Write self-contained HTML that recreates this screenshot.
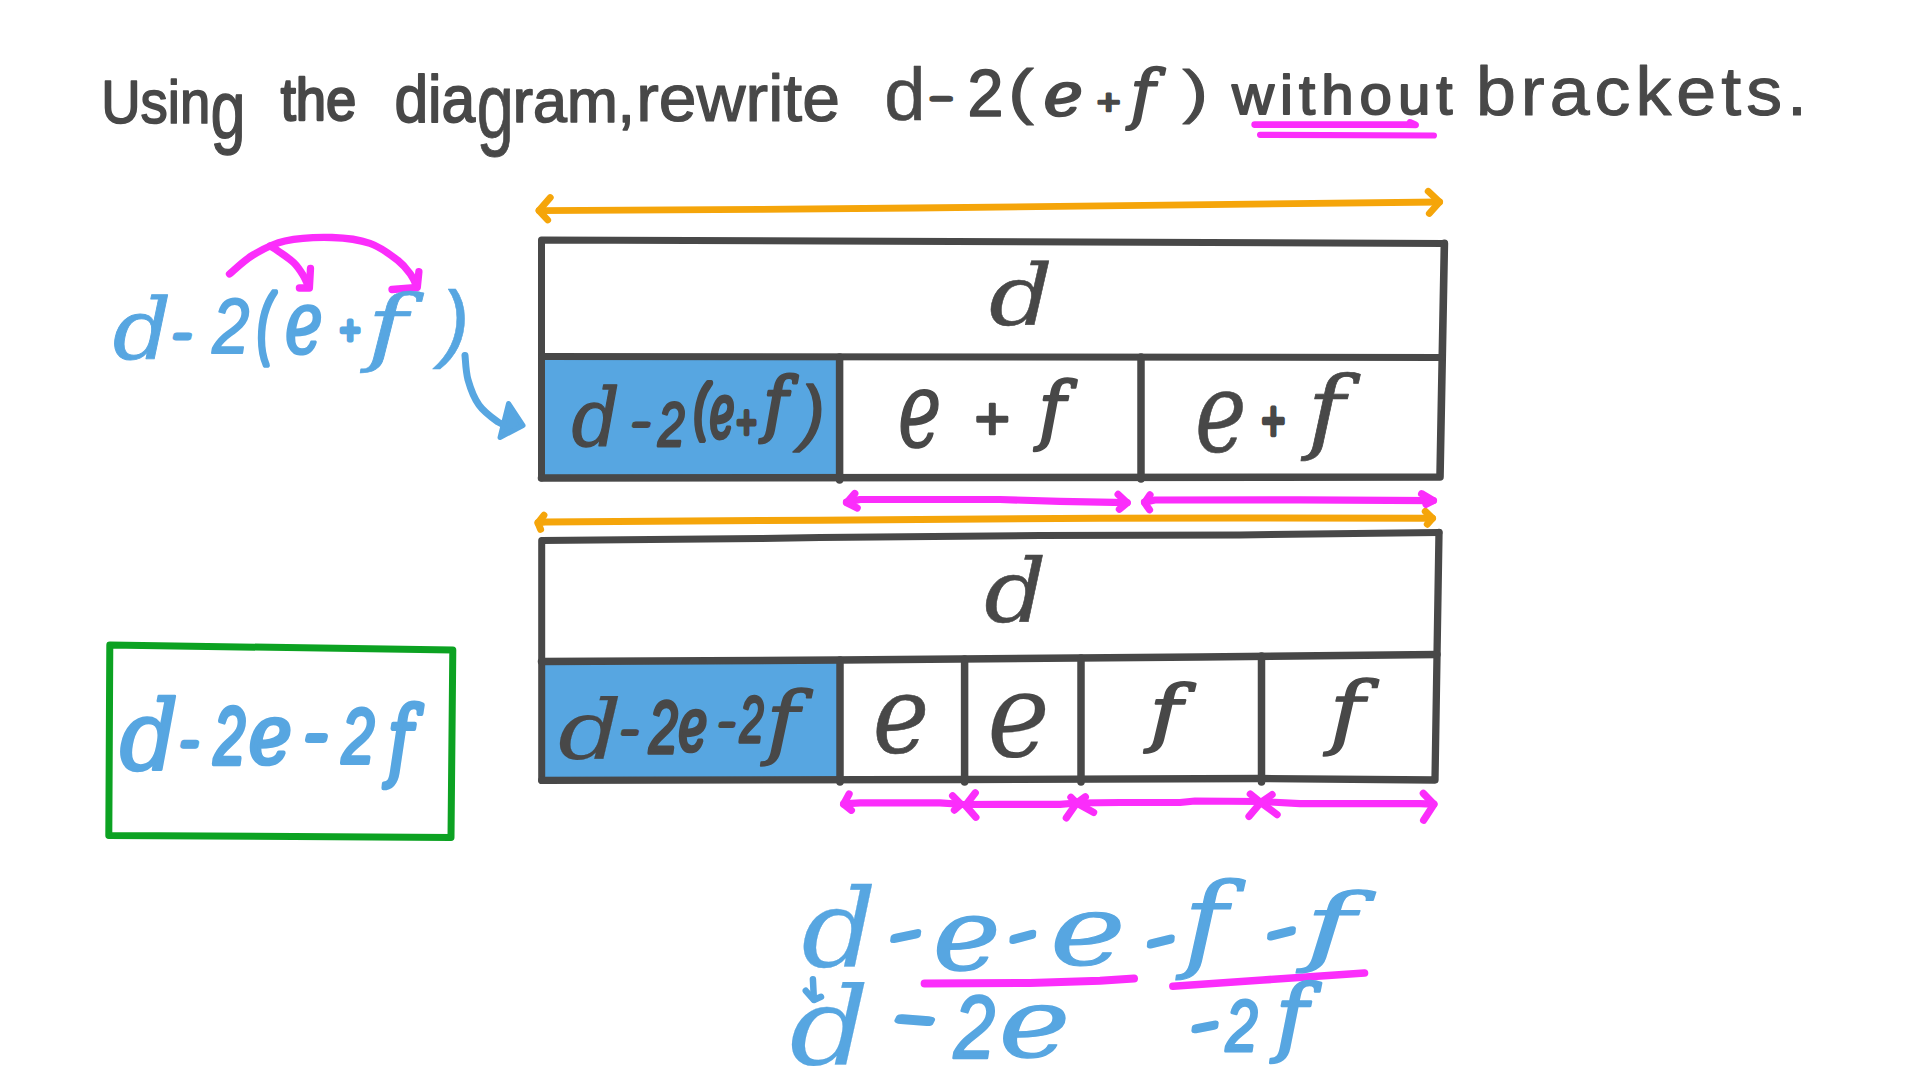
<!DOCTYPE html>
<html lang="en"><head><meta charset="utf-8"><title>Rewrite d-2(e+f) without brackets</title>
<style>
html,body{margin:0;padding:0;background:#fff}
body{width:1920px;height:1080px;overflow:hidden}
svg{display:block}
text{font-size:200px;stroke-linejoin:round;stroke-linecap:round}
.ln{fill:none;stroke-linecap:round;stroke-linejoin:round}
</style></head>
<body>
<svg width="1920" height="1080" viewBox="0 0 1920 1080">
<rect width="1920" height="1080" fill="#fff"/>
<polygon points="544,358 837,358 837,476 544,476" fill="#57A6E1"/>
<polygon points="544,663 837,662 837,778 544,778" fill="#57A6E1"/>
<path class="ln" stroke="#484848" stroke-width="7" d="M541.5,478.0 L541.5,240.0 L1444.4,243.4"/>
<path class="ln" stroke="#484848" stroke-width="7.6" d="M1444.4,243.4 L1440.0,477.0 L541.5,478.0"/>
<path class="ln" stroke="#484848" stroke-width="7" d="M542.0,356.5 L1442.0,357.5"/>
<path class="ln" stroke="#484848" stroke-width="7.5" d="M839.6,357.0 L839.6,480.0"/>
<path class="ln" stroke="#484848" stroke-width="7.5" d="M1141.0,357.0 L1141.0,479.0"/>
<path class="ln" stroke="#484848" stroke-width="7" d="M541.7,780.0 L541.7,540.6 L760.0,538.5 L820.0,537.5 L1040.0,535.6 L1240.0,535.0 L1439.0,532.5"/>
<path class="ln" stroke="#484848" stroke-width="7.3" d="M1439.0,532.5 L1435.0,780.0 L1261.0,778.5 L964.0,779.5 L541.7,780.4"/>
<path class="ln" stroke="#484848" stroke-width="7.5" d="M541.5,661.5 L840.0,660.0 L1200.0,657.0 L1437.0,654.5"/>
<path class="ln" stroke="#484848" stroke-width="7.5" d="M840.0,660.0 L840.0,782.0"/>
<path class="ln" stroke="#484848" stroke-width="7.5" d="M964.6,659.0 L964.6,782.0"/>
<path class="ln" stroke="#484848" stroke-width="7.5" d="M1081.0,658.0 L1081.0,782.0"/>
<path class="ln" stroke="#484848" stroke-width="7.5" d="M1261.5,656.0 L1261.5,782.0"/>
<path class="ln" stroke="#F5A50A" stroke-width="6.8" d="M539.0,210.6 L760.0,209.4 L915.0,208.0 L1439.6,202.0"/>
<path class="ln" stroke="#F5A50A" stroke-width="6.8" d="M550.3,197.6 L539.0,210.6 L547.7,220.0"/>
<path class="ln" stroke="#F5A50A" stroke-width="6.8" d="M1428.2,191.3 L1439.6,202.0 L1429.3,213.5"/>
<path class="ln" stroke="#F5A50A" stroke-width="7.0" d="M537.9,522.7 L545.0,522.0 L760.0,520.6 L820.0,520.3 L1100.0,518.2 L1240.0,518.0 L1432.5,518.2"/>
<path class="ln" stroke="#F5A50A" stroke-width="7.0" d="M543.9,515.3 L538.0,523.0 L540.6,529.3"/>
<path class="ln" stroke="#F5A50A" stroke-width="7.0" d="M1425.3,511.4 L1432.5,518.2 L1427.3,524.2"/>
<path class="ln" stroke="#FB2DFB" stroke-width="7.2" d="M846.5,502.1 L860.0,499.5 L1000.0,499.5 L1060.0,501.3 L1127.2,502.7"/>
<path class="ln" stroke="#FB2DFB" stroke-width="7.2" d="M854.8,493.5 L846.6,502.8 L857.2,507.9"/>
<path class="ln" stroke="#FB2DFB" stroke-width="7.2" d="M1118.1,494.4 L1127.2,502.8 L1119.4,509.3"/>
<path class="ln" stroke="#FB2DFB" stroke-width="7.2" d="M1144.5,502.1 L1155.0,500.0 L1300.0,499.8 L1433.4,500.6"/>
<path class="ln" stroke="#FB2DFB" stroke-width="7.2" d="M1150.0,494.9 L1144.6,502.8 L1149.5,509.8"/>
<path class="ln" stroke="#FB2DFB" stroke-width="7.2" d="M1421.6,493.7 L1433.4,500.6 L1426.0,504.4"/>
<path class="ln" stroke="#FB2DFB" stroke-width="7.2" d="M843.6,803.9 L860.0,802.8 L940.0,802.8 L963.3,804.5 L1000.0,804.4 L1060.0,804.4 L1076.7,803.0 L1120.0,802.5 L1180.0,802.5 L1195.0,801.0 L1260.8,801.5 L1300.0,803.7 L1420.0,803.7 L1433.9,804.1"/>
<path class="ln" stroke="#FB2DFB" stroke-width="7.2" d="M849.1,794.0 L843.6,804.2 L851.4,810.3"/>
<path class="ln" stroke="#FB2DFB" stroke-width="7.2" d="M952.6,795.8 L961.0,804.2 L954.4,810.1"/>
<path class="ln" stroke="#FB2DFB" stroke-width="7.2" d="M975.3,792.8 L965.5,805.5 L975.9,817.3"/>
<path class="ln" stroke="#FB2DFB" stroke-width="7.2" d="M1070.9,797.2 L1076.7,803.0 L1093.6,812.4"/>
<path class="ln" stroke="#FB2DFB" stroke-width="7.2" d="M1085.4,796.8 L1076.7,803.0 L1066.3,817.9"/>
<path class="ln" stroke="#FB2DFB" stroke-width="7.2" d="M1250.3,794.0 L1260.8,802.5 L1277.1,814.6"/>
<path class="ln" stroke="#FB2DFB" stroke-width="7.2" d="M1272.1,794.6 L1260.8,802.5 L1249.0,816.4"/>
<path class="ln" stroke="#FB2DFB" stroke-width="7.2" d="M1423.3,793.4 L1434.0,804.2 L1423.6,820.3"/>
<path class="ln" stroke="#FB2DFB" stroke-width="6.8" d="M1254.7,124.6 L1405,124.6 L1415.6,124.8 L1410,122.5" />
<path class="ln" stroke="#FB2DFB" stroke-width="6.2" d="M1260.1,134.8 L1433.9,135.5"/>
<path class="ln" stroke="#FB2DFB" stroke-width="7.3" d="M229.5,274.0 C233.4,270.8 243.8,260.5 253.0,255.0 C262.2,249.5 271.8,243.9 285.0,241.0 C298.2,238.1 317.8,237.1 332.0,237.5 C346.2,237.9 359.0,239.6 370.0,243.4 C381.0,247.2 391.2,255.2 398.0,260.5 C404.8,265.8 407.9,270.8 411.0,275.0 C414.1,279.2 415.6,284.2 416.5,286.0" />
<path class="ln" stroke="#FB2DFB" stroke-width="7.3" d="M418.9,271.6 L417.3,287.5 L392.0,289.5"/>
<path class="ln" stroke="#FB2DFB" stroke-width="7.3" d="M270.0,246.0 C271.5,246.9 274.9,248.7 278.8,251.5 C282.8,254.3 289.7,258.7 293.7,262.6 C297.7,266.5 300.5,270.9 303.0,275.0 C305.5,279.1 307.8,285.0 308.8,287.0" />
<path class="ln" stroke="#FB2DFB" stroke-width="7.3" d="M310.5,268.3 L309.4,288.0 L299.4,288.0"/>
<path class="ln" stroke="#57A6E1" stroke-width="7" d="M465.0,355.5 C465.5,359.5 465.7,371.4 468.0,379.7 C470.3,387.9 474.0,397.9 479.0,405.0 C484.0,412.1 493.5,418.8 498.0,422.0 C502.5,425.2 504.7,423.7 506.0,424.0" />
<polygon class="ln" points="508.5,403.5 523,425.5 500,437.5" stroke="#57A6E1" stroke-width="5" style="fill:#57A6E1"/>
<path class="ln" stroke="#0CA222" stroke-width="7" d="M109.8,645.0 L452.8,650.0 L451.0,837.5 L108.8,835.4 Z"/>
<path class="ln" stroke="#FB2DFB" stroke-width="8" d="M924.6,983.6 L1030,983 L1100,980.8 L1134,978.6" />
<path class="ln" stroke="#FB2DFB" stroke-width="7.6" d="M1172.9,986.3 L1263,980 L1364.5,973" />
<path class="ln" stroke="#57A6E1" stroke-width="6.5" d="M812.9,979.2 L813.9,999.4"/>
<path class="ln" stroke="#57A6E1" stroke-width="6.5" d="M805.8,990.8 L814.0,1000.0 L821.0,996.8"/>
<g><text transform="matrix(0.2728 0 0 0.3046 101.16 122.50)" font-family="&quot;Liberation Sans&quot;, sans-serif" font-style="normal" fill="#484848" stroke="#484848" stroke-width="5.50">Usin</text><text transform="matrix(0.3156 0 0 0.4099 210.52 138.07)" font-family="&quot;Liberation Sans&quot;, sans-serif" font-style="normal" fill="#484848" stroke="#484848" stroke-width="3.47">g</text></g>
<g><text transform="matrix(0.2720 0 0 0.2954 280.76 120.00)" font-family="&quot;Liberation Sans&quot;, sans-serif" font-style="normal" fill="#484848" stroke="#484848" stroke-width="7.90">the</text></g>
<g><text transform="matrix(0.3027 0 0 0.3319 394.38 121.50)" font-family="&quot;Liberation Sans&quot;, sans-serif" font-style="normal" fill="#484848" stroke="#484848" stroke-width="5.31">dia</text><text transform="matrix(0.3380 0 0 0.4644 476.59 137.59)" font-family="&quot;Liberation Sans&quot;, sans-serif" font-style="normal" fill="#484848" stroke="#484848" stroke-width="1.73">g</text><text transform="matrix(0.3047 0 0 0.3074 512.83 121.50)" font-family="&quot;Liberation Sans&quot;, sans-serif" font-style="normal" fill="#484848" stroke="#484848" stroke-width="5.18">ram,</text></g>
<g><text transform="matrix(0.3395 0 0 0.3302 636.22 120.50)" font-family="&quot;Liberation Sans&quot;, sans-serif" font-style="normal" fill="#484848" stroke="#484848" stroke-width="3.75">rewrite</text></g>
<g><text transform="matrix(0.3713 0 0 0.3736 884.32 119.96)" font-family="&quot;Liberation Sans&quot;, sans-serif" font-style="normal" fill="#484848" stroke="#484848" stroke-width="1.57">d</text><text transform="matrix(0.3219 0 0 0.1500 930.47 106.95)" font-family="&quot;Liberation Sans&quot;, sans-serif" font-style="normal" fill="#484848" stroke="#484848" stroke-width="24.00">-</text><text transform="matrix(0.3228 0 0 0.3310 967.58 116.17)" font-family="&quot;Liberation Sans&quot;, sans-serif" font-style="normal" fill="#484848" stroke="#484848" stroke-width="5.02">2</text><text transform="matrix(0.3891 0 0 0.3044 1008.02 111.68)" font-family="&quot;Liberation Sans&quot;, sans-serif" font-style="normal" fill="#484848" stroke="#484848" stroke-width="3.55">(</text><text transform="matrix(0.3325 0 0 0.2959 1043.38 115.39)" font-family="&quot;DejaVu Serif&quot;, &quot;Liberation Serif&quot;, serif" font-style="italic" fill="#484848" stroke="#484848" stroke-width="8.27">e</text><text transform="matrix(0.2005 0 0 0.1767 1097.02 114.34)" font-family="&quot;Liberation Sans&quot;, sans-serif" font-style="normal" fill="#484848" stroke="#484848" stroke-width="15.21">+</text><text transform="matrix(0.3375 0 0 0.3267 1130.15 116.22)" font-family="&quot;DejaVu Serif&quot;, &quot;Liberation Serif&quot;, serif" font-style="italic" fill="#484848" stroke="#484848" stroke-width="6.49">f</text><text transform="matrix(0.3930 0 0 0.3005 1182.25 111.97)" font-family="&quot;Liberation Sans&quot;, sans-serif" font-style="normal" fill="#484848" stroke="#484848" stroke-width="2.71">)</text></g>
<g><text transform="matrix(0.2912 0 0 0.2800 1231.94 113.50)" font-family="&quot;Liberation Sans&quot;, sans-serif" font-style="normal" fill="#484848" stroke="#484848" stroke-width="6.45" letter-spacing="20.66">without</text></g>
<g><text transform="matrix(0.3583 0 0 0.3446 1475.90 114.50)" font-family="&quot;Liberation Sans&quot;, sans-serif" font-style="normal" fill="#484848" stroke="#484848" stroke-width="3.12" letter-spacing="14.08">brackets.</text></g>
<g><text transform="matrix(0.4987 0 0 0.4247 989.08 325.19)" font-family="&quot;DejaVu Serif&quot;, &quot;Liberation Serif&quot;, serif" font-style="italic" fill="#484848" stroke="#484848" stroke-width="1.12">d</text></g>
<g><text transform="matrix(0.3777 0 0 0.4003 571.58 446.47)" font-family="&quot;DejaVu Serif&quot;, &quot;Liberation Serif&quot;, serif" font-style="italic" fill="#484848" stroke="#484848" stroke-width="3.15">d</text><text transform="matrix(0.2513 0 0 0.1625 632.20 434.36)" font-family="&quot;Liberation Sans&quot;, sans-serif" font-style="italic" fill="#484848" stroke="#484848" stroke-width="24.00">-</text><text transform="matrix(0.2399 0 0 0.3188 658.02 446.07)" font-family="&quot;Liberation Sans&quot;, sans-serif" font-style="italic" fill="#484848" stroke="#484848" stroke-width="8.98">2</text><text transform="matrix(0.2028 0 0 0.3096 694.17 426.95)" font-family="&quot;Liberation Sans&quot;, sans-serif" font-style="italic" fill="#484848" stroke="#484848" stroke-width="19.70">(</text><text transform="matrix(0.2119 0 0 0.3732 709.50 437.41)" font-family="&quot;DejaVu Serif&quot;, &quot;Liberation Serif&quot;, serif" font-style="italic" fill="#484848" stroke="#484848" stroke-width="13.26">e</text><text transform="matrix(0.1731 0 0 0.2316 736.06 438.02)" font-family="&quot;Liberation Sans&quot;, sans-serif" font-style="italic" fill="#484848" stroke="#484848" stroke-width="18.56">+</text><text transform="matrix(0.3308 0 0 0.3573 763.45 428.40)" font-family="&quot;DejaVu Serif&quot;, &quot;Liberation Serif&quot;, serif" font-style="italic" fill="#484848" stroke="#484848" stroke-width="8.94">f</text><text transform="matrix(0.3745 0 0 0.3613 800.36 437.11)" font-family="&quot;Liberation Sans&quot;, sans-serif" font-style="italic" fill="#484848" stroke="#484848" stroke-width="3.97">)</text></g>
<g><text transform="matrix(0.3663 0 0 0.5301 898.09 445.56)" font-family="&quot;DejaVu Serif&quot;, &quot;Liberation Serif&quot;, serif" font-style="italic" fill="#484848" stroke="#484848" stroke-width="3.19">e</text><text transform="matrix(0.3027 0 0 0.3064 973.78 438.58)" font-family="&quot;Liberation Sans&quot;, sans-serif" font-style="italic" fill="#484848" stroke="#484848" stroke-width="8.71">+</text><text transform="matrix(0.3693 0 0 0.3744 1038.60 434.69)" font-family="&quot;DejaVu Serif&quot;, &quot;Liberation Serif&quot;, serif" font-style="italic" fill="#484848" stroke="#484848" stroke-width="6.32">f</text></g>
<g><text transform="matrix(0.4350 0 0 0.5578 1194.93 451.01)" font-family="&quot;DejaVu Serif&quot;, &quot;Liberation Serif&quot;, serif" font-style="italic" fill="#484848" stroke="#484848" stroke-width="1.14">e</text><text transform="matrix(0.2020 0 0 0.2811 1260.97 439.83)" font-family="&quot;Liberation Sans&quot;, sans-serif" font-style="italic" fill="#484848" stroke="#484848" stroke-width="15.85">+</text><text transform="matrix(0.5135 0 0 0.4584 1307.24 442.01)" font-family="&quot;DejaVu Serif&quot;, &quot;Liberation Serif&quot;, serif" font-style="italic" fill="#484848" stroke="#484848" stroke-width="1.46">f</text></g>
<g><text transform="matrix(0.4861 0 0 0.4416 984.36 622.40)" font-family="&quot;DejaVu Serif&quot;, &quot;Liberation Serif&quot;, serif" font-style="italic" fill="#484848" stroke="#484848" stroke-width="1.25">d</text></g>
<g><text transform="matrix(0.5007 0 0 0.4124 558.11 759.47)" font-family="&quot;DejaVu Serif&quot;, &quot;Liberation Serif&quot;, serif" font-style="italic" fill="#484848" stroke="#484848" stroke-width="0.43">d</text><text transform="matrix(0.2395 0 0 0.1750 621.28 741.78)" font-family="&quot;Liberation Sans&quot;, sans-serif" font-style="italic" fill="#484848" stroke="#484848" stroke-width="24.00">-</text><text transform="matrix(0.2589 0 0 0.3735 649.05 753.14)" font-family="&quot;Liberation Sans&quot;, sans-serif" font-style="italic" fill="#484848" stroke="#484848" stroke-width="9.95">2</text><text transform="matrix(0.2456 0 0 0.3608 678.36 749.91)" font-family="&quot;DejaVu Serif&quot;, &quot;Liberation Serif&quot;, serif" font-style="italic" fill="#484848" stroke="#484848" stroke-width="12.78">e</text><text transform="matrix(0.2303 0 0 0.1625 718.76 734.36)" font-family="&quot;Liberation Sans&quot;, sans-serif" font-style="italic" fill="#484848" stroke="#484848" stroke-width="24.00">-</text><text transform="matrix(0.2148 0 0 0.3206 739.66 741.59)" font-family="&quot;Liberation Sans&quot;, sans-serif" font-style="italic" fill="#484848" stroke="#484848" stroke-width="10.67">2</text><text transform="matrix(0.4481 0 0 0.4042 766.26 748.93)" font-family="&quot;DejaVu Serif&quot;, &quot;Liberation Serif&quot;, serif" font-style="italic" fill="#484848" stroke="#484848" stroke-width="3.94">f</text></g>
<g><text transform="matrix(0.4771 0 0 0.5394 872.70 752.05)" font-family="&quot;DejaVu Serif&quot;, &quot;Liberation Serif&quot;, serif" font-style="italic" fill="#484848" stroke="#484848" stroke-width="1.23">e</text></g>
<g><text transform="matrix(0.5284 0 0 0.5848 987.32 755.66)" font-family="&quot;DejaVu Serif&quot;, &quot;Liberation Serif&quot;, serif" font-style="italic" fill="#484848" stroke="#484848" stroke-width="0.30">e</text></g>
<g><text transform="matrix(0.4433 0 0 0.3610 1149.53 737.85)" font-family="&quot;DejaVu Serif&quot;, &quot;Liberation Serif&quot;, serif" font-style="italic" fill="#484848" stroke="#484848" stroke-width="5.46">f</text></g>
<g><text transform="matrix(0.4786 0 0 0.3990 1329.32 739.29)" font-family="&quot;DejaVu Serif&quot;, &quot;Liberation Serif&quot;, serif" font-style="italic" fill="#484848" stroke="#484848" stroke-width="3.25">f</text></g>
<g><text transform="matrix(0.4576 0 0 0.4203 112.63 359.32)" font-family="&quot;DejaVu Serif&quot;, &quot;Liberation Serif&quot;, serif" font-style="italic" fill="#57A6E1" stroke="#57A6E1" stroke-width="2.02">d</text><text transform="matrix(0.2553 0 0 0.2000 173.11 346.60)" font-family="&quot;Liberation Sans&quot;, sans-serif" font-style="italic" fill="#57A6E1" stroke="#57A6E1" stroke-width="24.00">-</text><text transform="matrix(0.3341 0 0 0.3883 212.13 352.78)" font-family="&quot;Liberation Sans&quot;, sans-serif" font-style="italic" fill="#57A6E1" stroke="#57A6E1" stroke-width="4.75">2</text><text transform="matrix(0.2314 0 0 0.3886 257.21 349.01)" font-family="&quot;Liberation Sans&quot;, sans-serif" font-style="italic" fill="#57A6E1" stroke="#57A6E1" stroke-width="13.73">(</text><text transform="matrix(0.3218 0 0 0.4385 284.76 353.10)" font-family="&quot;DejaVu Serif&quot;, &quot;Liberation Serif&quot;, serif" font-style="italic" fill="#57A6E1" stroke="#57A6E1" stroke-width="7.21">e</text><text transform="matrix(0.1726 0 0 0.1957 339.38 343.11)" font-family="&quot;Liberation Sans&quot;, sans-serif" font-style="italic" fill="#57A6E1" stroke="#57A6E1" stroke-width="24.66">+</text><text transform="matrix(0.5489 0 0 0.4243 367.03 354.84)" font-family="&quot;DejaVu Serif&quot;, &quot;Liberation Serif&quot;, serif" font-style="italic" fill="#57A6E1" stroke="#57A6E1" stroke-width="1.60">f</text><text transform="matrix(0.4304 0 0 0.4302 441.05 350.66)" font-family="&quot;Liberation Sans&quot;, sans-serif" font-style="italic" fill="#57A6E1" stroke="#57A6E1" stroke-width="1.27">)</text></g>
<g><text transform="matrix(0.4614 0 0 0.4864 119.39 770.23)" font-family="&quot;DejaVu Serif&quot;, &quot;Liberation Serif&quot;, serif" font-style="italic" fill="#57A6E1" stroke="#57A6E1" stroke-width="5.37">d</text><text transform="matrix(0.2500 0 0 0.2250 180.50 756.43)" font-family="&quot;Liberation Sans&quot;, sans-serif" font-style="italic" fill="#57A6E1" stroke="#57A6E1" stroke-width="24.00">-</text><text transform="matrix(0.2831 0 0 0.4050 213.86 764.45)" font-family="&quot;Liberation Sans&quot;, sans-serif" font-style="italic" fill="#57A6E1" stroke="#57A6E1" stroke-width="11.11">2</text><text transform="matrix(0.3633 0 0 0.4091 248.82 763.12)" font-family="&quot;DejaVu Serif&quot;, &quot;Liberation Serif&quot;, serif" font-style="italic" fill="#57A6E1" stroke="#57A6E1" stroke-width="11.49">e</text><text transform="matrix(0.3026 0 0 0.2500 305.61 751.25)" font-family="&quot;Liberation Sans&quot;, sans-serif" font-style="italic" fill="#57A6E1" stroke="#57A6E1" stroke-width="24.00">-</text><text transform="matrix(0.2941 0 0 0.3880 341.76 763.06)" font-family="&quot;Liberation Sans&quot;, sans-serif" font-style="italic" fill="#57A6E1" stroke="#57A6E1" stroke-width="9.99">2</text><text transform="matrix(0.3418 0 0 0.4370 387.55 770.29)" font-family="&quot;DejaVu Serif&quot;, &quot;Liberation Serif&quot;, serif" font-style="italic" fill="#57A6E1" stroke="#57A6E1" stroke-width="10.80">f</text></g>
<g><text transform="matrix(0.5873 0 0 0.5442 801.39 966.24)" font-family="&quot;DejaVu Serif&quot;, &quot;Liberation Serif&quot;, serif" font-style="italic" fill="#57A6E1" stroke="#57A6E1" stroke-width="0.47">d</text><text transform="rotate(-12 905.5 936.0) matrix(0.4290 0 0 0.2250 890.06 947.93)" font-family="&quot;Liberation Sans&quot;, sans-serif" font-style="italic" fill="#57A6E1" stroke="#57A6E1" stroke-width="24.00">-</text><text transform="matrix(0.5736 0 0 0.4962 932.66 969.80)" font-family="&quot;DejaVu Serif&quot;, &quot;Liberation Serif&quot;, serif" font-style="italic" fill="#57A6E1" stroke="#57A6E1" stroke-width="2.85">e</text><text transform="rotate(-15 1022.7 937.0) matrix(0.3763 0 0 0.2250 1009.15 948.93)" font-family="&quot;Liberation Sans&quot;, sans-serif" font-style="italic" fill="#57A6E1" stroke="#57A6E1" stroke-width="24.00">-</text><text transform="matrix(0.6391 0 0 0.4896 1050.00 964.96)" font-family="&quot;DejaVu Serif&quot;, &quot;Liberation Serif&quot;, serif" font-style="italic" fill="#57A6E1" stroke="#57A6E1" stroke-width="2.34">e</text><text transform="rotate(-14 1160.6 941.5) matrix(0.3895 0 0 0.2250 1146.58 953.43)" font-family="&quot;Liberation Sans&quot;, sans-serif" font-style="italic" fill="#57A6E1" stroke="#57A6E1" stroke-width="24.00">-</text><text transform="matrix(0.5997 0 0 0.5193 1183.26 957.81)" font-family="&quot;DejaVu Serif&quot;, &quot;Liberation Serif&quot;, serif" font-style="italic" fill="#57A6E1" stroke="#57A6E1" stroke-width="2.23">f</text><text transform="rotate(-14 1281.3 933.5) matrix(0.4026 0 0 0.2250 1266.81 945.43)" font-family="&quot;Liberation Sans&quot;, sans-serif" font-style="italic" fill="#57A6E1" stroke="#57A6E1" stroke-width="24.00">-</text><text transform="matrix(0.6836 0 0 0.4349 1304.70 955.17)" font-family="&quot;DejaVu Serif&quot;, &quot;Liberation Serif&quot;, serif" font-style="italic" fill="#57A6E1" stroke="#57A6E1" stroke-width="2.61">f</text></g>
<g><text transform="matrix(0.6251 0 0 0.5383 789.59 1064.10)" font-family="&quot;DejaVu Serif&quot;, &quot;Liberation Serif&quot;, serif" font-style="italic" fill="#57A6E1" stroke="#57A6E1" stroke-width="0.30">d</text><text transform="rotate(4 914.6 1020.0) matrix(0.5355 0 0 0.2500 895.37 1033.25)" font-family="&quot;Liberation Sans&quot;, sans-serif" font-style="italic" fill="#57A6E1" stroke="#57A6E1" stroke-width="24.00">-</text><text transform="matrix(0.3721 0 0 0.4413 953.79 1058.49)" font-family="&quot;Liberation Sans&quot;, sans-serif" font-style="italic" fill="#57A6E1" stroke="#57A6E1" stroke-width="5.48">2</text><text transform="matrix(0.6039 0 0 0.4786 998.72 1056.59)" font-family="&quot;DejaVu Serif&quot;, &quot;Liberation Serif&quot;, serif" font-style="italic" fill="#57A6E1" stroke="#57A6E1" stroke-width="2.84">e</text></g>
<g><text transform="rotate(-11 1205.0 1027.0) matrix(0.3750 0 0 0.2250 1191.45 1038.93)" font-family="&quot;Liberation Sans&quot;, sans-serif" font-style="italic" fill="#57A6E1" stroke="#57A6E1" stroke-width="24.00">-</text><text transform="matrix(0.2862 0 0 0.3630 1225.84 1050.91)" font-family="&quot;Liberation Sans&quot;, sans-serif" font-style="italic" fill="#57A6E1" stroke="#57A6E1" stroke-width="8.76">2</text><text transform="matrix(0.4365 0 0 0.4166 1275.64 1044.86)" font-family="&quot;DejaVu Serif&quot;, &quot;Liberation Serif&quot;, serif" font-style="italic" fill="#57A6E1" stroke="#57A6E1" stroke-width="6.43">f</text></g>
</svg>
</body></html>
